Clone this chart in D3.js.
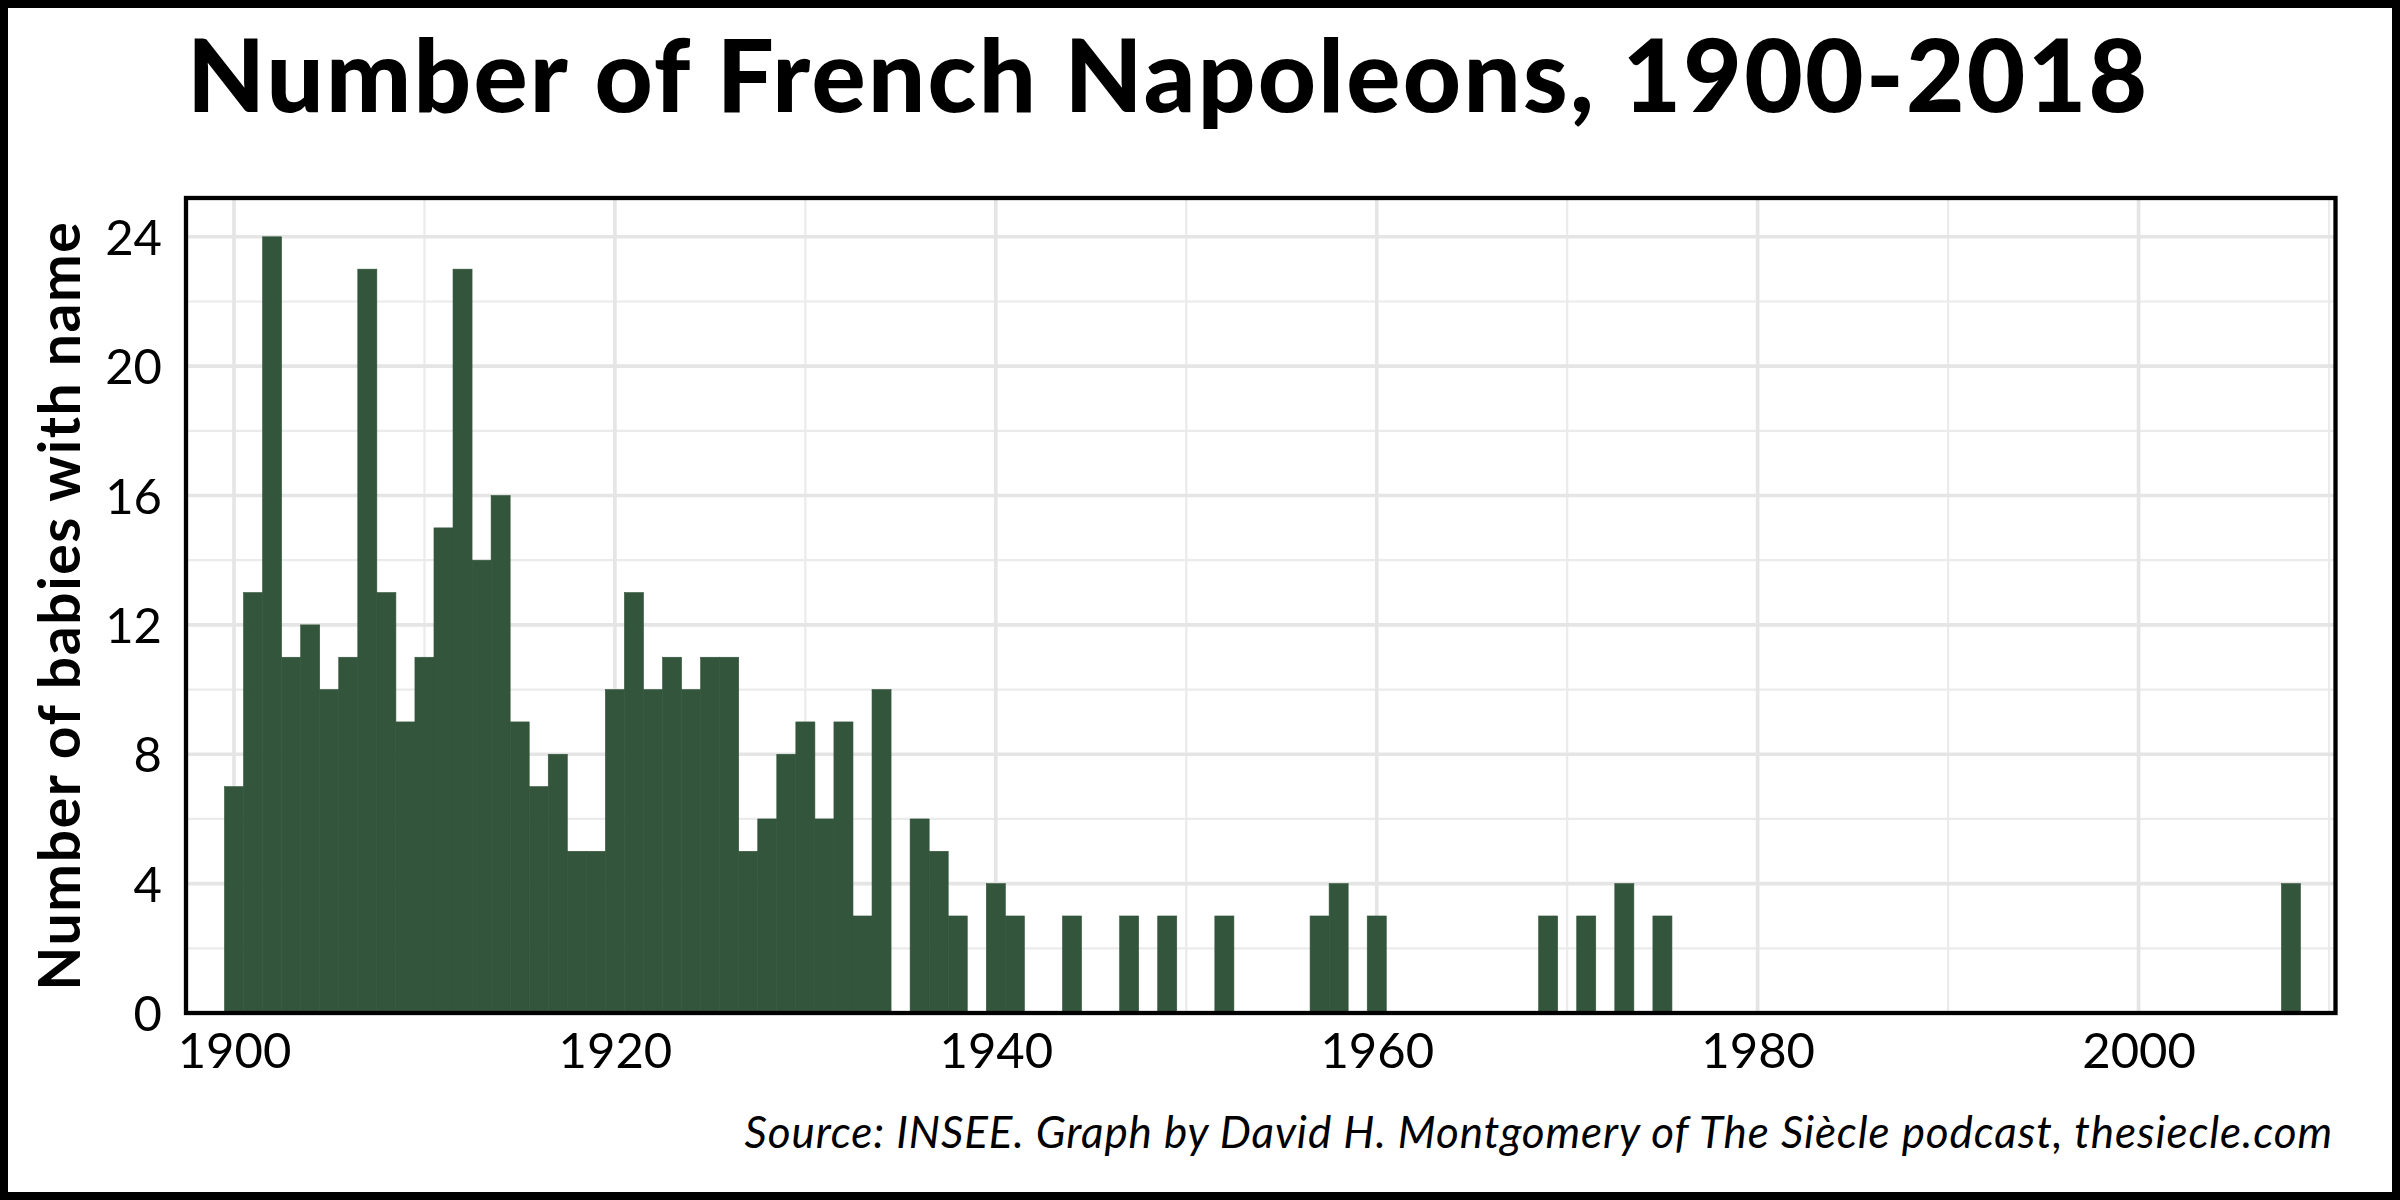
<!DOCTYPE html>
<html>
<head>
<meta charset="utf-8">
<script src="https://cdn.jsdelivr.net/npm/d3@7"></script>
<style>
  body { margin: 0; background: #fff; }
  text { font-family: Lato, "Open Sans", sans-serif; }
</style>
</head>
<body>
<script>
// years with at least one baby named Napoleon (missing years = 0)
var years = [1900, 1901, 1902, 1903, 1904, 1905, 1906, 1907, 1908, 1909,
    1910, 1911, 1912, 1913, 1914, 1915, 1916, 1917, 1918, 1919,
    1920, 1921, 1922, 1923, 1924, 1925, 1926, 1927, 1928, 1929,
    1930, 1931, 1932, 1933, 1934, 1936, 1937, 1938, 1940, 1941,
    1944, 1947, 1949, 1952, 1957, 1958, 1960, 1969, 1971, 1973,
    1975, 2008];
var babies = [7, 13, 24, 11, 12, 10, 11, 23, 13, 9,
    11, 15, 23, 14, 16, 9, 7, 8, 5, 5,
    10, 13, 10, 11, 10, 11, 11, 5, 6, 8,
    9, 6, 9, 3, 10, 6, 5, 3, 4, 3,
    3, 3, 3, 3, 3, 4, 3, 3, 3, 4,
    3, 4];
var yTicks = [0, 4, 8, 12, 16, 20, 24];
var yMinor = [2, 6, 10, 14, 18, 22];
var xTicks = [1900, 1920, 1940, 1960, 1980, 2000];
var xMinor = [1910, 1930, 1950, 1970, 1990, 2010];

var dataset = years.map(function (y, i) { return { year: y, n: babies[i] }; });

var w = 2400;
var h = 1200;
// panel edges (window.top is read-only, so avoid that name)
var pLeft = 186, pRight = 2335.5, pTop = 198, pBottom = 1013;

var x = d3.scaleLinear().domain([1897.48, 2010.34]).range([pLeft, pRight]);
var y = d3.scaleLinear().domain([0, 25.2]).range([pBottom, pTop]);

var svg = d3.select("body").append("svg").attr("width", w).attr("height", h);

// white background + outer black frame
svg.append("rect").attr("x", 4).attr("y", 4).attr("width", w - 8).attr("height", h - 8)
    .attr("fill", "#fff").attr("stroke", "#000").attr("stroke-width", 8);

// gridlines
var grid = svg.append("g");
grid.selectAll(".ymin").data(yMinor).enter().append("line")
    .attr("x1", pLeft).attr("x2", pRight)
    .attr("y1", d => y(d)).attr("y2", d => y(d))
    .attr("stroke", "#ebebeb").attr("stroke-width", 2.2);
grid.selectAll(".xmin").data(xMinor).enter().append("line")
    .attr("y1", pTop).attr("y2", pBottom)
    .attr("x1", d => x(d)).attr("x2", d => x(d))
    .attr("stroke", "#ebebeb").attr("stroke-width", 2.2);
grid.selectAll(".ymaj").data(yTicks).enter().append("line")
    .attr("x1", pLeft).attr("x2", pRight)
    .attr("y1", d => y(d)).attr("y2", d => y(d))
    .attr("stroke", "#e5e5e5").attr("stroke-width", 3.6);
grid.selectAll(".xmaj").data(xTicks).enter().append("line")
    .attr("y1", pTop).attr("y2", pBottom)
    .attr("x1", d => x(d)).attr("x2", d => x(d))
    .attr("stroke", "#e5e5e5").attr("stroke-width", 3.6);

// bars, one per year
svg.selectAll(".bar").data(dataset).enter().append("rect").attr("class", "bar")
    .attr("x", d => x(d.year - 0.5))
    .attr("width", d => x(d.year + 0.5) - x(d.year - 0.5))
    .attr("y", d => y(d.n))
    .attr("height", d => y(0) - y(d.n))
    .attr("fill", "#33553b")
    .attr("stroke", "#33553b").attr("stroke-width", 0.6);

// panel border
svg.append("rect").attr("x", pLeft).attr("y", pTop)
    .attr("width", pRight - pLeft).attr("height", pBottom - pTop)
    .attr("fill", "none").attr("stroke", "#000").attr("stroke-width", 4.3);

// axes labels
var yAxis = d3.axisLeft(y).tickValues(yTicks).tickSize(0).tickPadding(24);
var gy = svg.append("g").attr("transform", "translate(" + pLeft + ",0)").call(yAxis);
gy.select(".domain").remove();
gy.selectAll("text").attr("font-size", 49).attr("fill", "#000")
    .attr("font-family", "Lato, sans-serif").attr("dy", "0.36em");

var xAxis = d3.axisBottom(x).tickValues(xTicks).tickSize(0).tickPadding(20).tickFormat(d3.format("d"));
var gx = svg.append("g").attr("transform", "translate(0," + pBottom + ")").call(xAxis);
gx.select(".domain").remove();
gx.selectAll("text").attr("font-size", 49).attr("fill", "#000")
    .attr("font-family", "Lato, sans-serif").attr("dy", "0.72em");

// y title
svg.append("text")
    .attr("transform", "translate(80," + ((pTop + pBottom) / 2) + ") rotate(-90)")
    .attr("text-anchor", "middle").attr("font-size", 57).attr("font-weight", 700)
    .attr("letter-spacing", 1.6)
    .text("Number of babies with name");

// title
svg.append("text").attr("x", 187).attr("y", 112)
    .attr("font-size", 101).attr("font-weight", 900).attr("letter-spacing", 2.3)
    .text("Number of French Napoleons, 1900-2018");

// caption
svg.append("text").attr("x", 2333).attr("y", 1148)
    .attr("text-anchor", "end").attr("font-size", 44).attr("font-style", "italic")
    .attr("letter-spacing", 0.9)
    .text("Source: INSEE. Graph by David H. Montgomery of The Siècle podcast, thesiecle.com");
</script>
</body>
</html>
